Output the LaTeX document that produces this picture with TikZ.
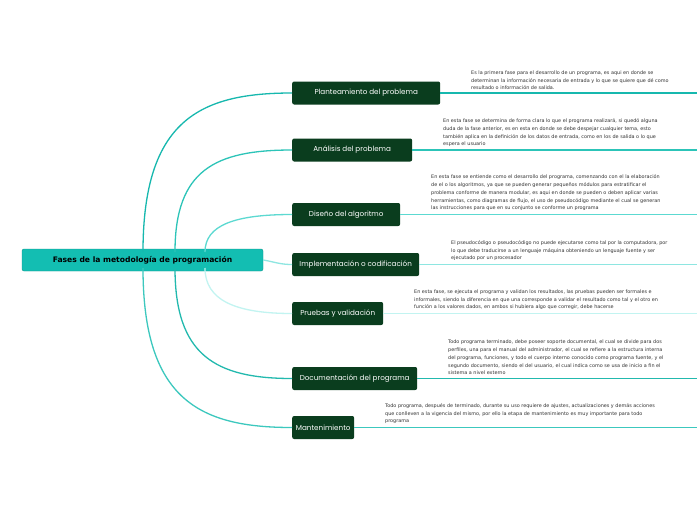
\documentclass[tikz,border=0pt]{standalone}
\usepackage{fontspec}
\setmainfont{DejaVu Sans}
\newfontfamily\boxfont{Poppins}
\begin{document}
\begin{tikzpicture}[x=1pt,y=-1pt,
  phase/.style={fill=phgreen,rounded corners=2pt,text=white,font=\boxfont\fontsize{7.2}{8}\selectfont,anchor=west,minimum height=23pt,inner xsep=3pt},
  desc/.style={anchor=south west,align=left,font=\fontsize{4.9}{7.7}\selectfont,text=black!80,inner sep=0pt},
  link/.style={line width=1.3pt},
  uline/.style={line width=1.2pt}]
\definecolor{phgreen}{HTML}{0A3D1E}
\definecolor{cA}{HTML}{16B8AE}
\definecolor{cB}{HTML}{2CC4B8}
\definecolor{cC}{HTML}{5CD9D1}
\definecolor{cD}{HTML}{8EE6E1}
\definecolor{cE}{HTML}{C2F4F1}
\definecolor{cF}{HTML}{22B9AE}
\definecolor{cG}{HTML}{3CC8BE}
\useasboundingbox (0,0) rectangle (697,520);
\fill[white] (0,0) rectangle (697,520);
\node[fill=cA!90!black!0,fill={rgb,255:red,19;green,190;blue,178},draw={rgb,255:red,12;green,150;blue,140},rounded corners=2pt,minimum width=241pt,minimum height=22pt,font=\bfseries\fontsize{7.6}{9}\selectfont,text=black] (c) at (142.5,260) {Fases de la metodología de programación};
\coordinate (o1) at (143,252); \coordinate (o7) at (143,268);
\coordinate (o2) at (175,252); \coordinate (o6) at (175,268);
\coordinate (o3) at (205,252); \coordinate (o5) at (205,268);
\node[phase,minimum width=148pt] (p1) at (292,93) {Planteamiento del problema};
\node[phase,minimum width=120pt] (p2) at (292,150) {Análisis del problema};
\node[phase,minimum width=108pt] (p3) at (292,214.5) {Diseño del algoritmo};
\node[phase,minimum width=127pt] (p4) at (292,264.5) {Implementación o codificación};
\node[phase,minimum width=91pt] (p5) at (292,313.5) {Pruebas y validación};
\node[phase,minimum width=125pt] (p6) at (292,378.5) {Documentación del programa};
\node[phase,minimum width=62pt] (p7) at (292,427.5) {Mantenimiento};
\draw[link,cA] (o1) .. controls (143,120) and (200,93) .. (p1.west);
\draw[link,cB] (o2) .. controls (175,170) and (215,150) .. (p2.west);
\draw[link,cC] (o3) .. controls (205,225) and (235,214.5) .. (p3.west);
\draw[link,cD] (c.east) .. controls (275,262) and (280,264.5) .. (p4.west);
\draw[link,cE] (o5) .. controls (205,300) and (235,313.5) .. (p5.west);
\draw[link,cF] (o6) .. controls (175,355) and (215,378.5) .. (p6.west);
\draw[link,cG] (o7) .. controls (143,400) and (200,427.5) .. (p7.west);
\coordinate (e1) at (697,93); \coordinate (e2) at (697,150); \coordinate (e3) at (697,214.5);
\coordinate (e4) at (697,264.5); \coordinate (e5) at (697,313.5); \coordinate (e6) at (697,378.5); \coordinate (e7) at (697,427.5);
\draw[uline,cA] (p1.east) -- (e1);
\draw[uline,cB] (p2.east) -- (e2);
\draw[uline,cC] (p3.east) -- (e3);
\draw[uline,cD] (p4.east) -- (e4);
\draw[uline,cE] (p5.east) -- (e5);
\draw[uline,cF] (p6.east) -- (e6);
\draw[uline,cG] (p7.east) -- (e7);
\node[desc] (d1) at (471,90) {Es la primera fase para el desarrollo de un programa, es aqui en donde se\\determinan la información necesaria de entrada y lo que se quiere que dé como\\resultado o información de salida.};
\node[desc] (d2) at (443,147) {En esta fase se determina de forma clara lo que el programa realizará, si quedó alguna\\duda de la fase anterior, es en esta en donde se debe despejar cualquier tema, esto\\también aplica en la definición de los datos de entrada, como en los de salida o lo que\\espera el usuario};
\node[desc] (d3) at (431,211) {En esta fase se entiende como el desarrollo del programa, comenzando con el la elaboración\\de el o los algoritmos, ya que se pueden generar pequeños módulos para estratificar el\\problema conforme de manera modular, es aqui en donde se pueden o deben aplicar varias\\herramientas, como diagramas de flujo, el uso de pseudocódigo mediante el cual se generan\\las instrucciones para que en su conjunto se conforme un programa};
\node[desc] (d4) at (451,261) {El pseudocódigo o pseudocódigo no puede ejecutarse como tal por la computadora, por\\lo que debe traducirse a un lenguaje máquina obteniendo un lenguaje fuente y ser\\ejecutado por un procesador};
\node[desc] (d5) at (414,310) {En esta fase, se ejecuta el programa y validan los resultados, las pruebas pueden ser formales e\\informales, siendo la diferencia en que una corresponde a validar el resultado como tal y el otro en\\función a los valores dados, en ambos si hubiera algo que corregir, debe hacerse};
\node[desc] (d6) at (448,375) {Todo programa terminado, debe poseer soporte documental, el cual se divide para dos\\perfiles, una para el manual del administrador, el cual se refiere a la estructura interna\\del programa, funciones, y todo el cuerpo interno conocido como programa fuente, y el\\segundo documento, siendo el del usuario, el cual indica como se usa de inicio a fin el\\sistema a nivel externo};
\node[desc] (d7) at (385,424) {Todo programa, después de terminado, durante su uso requiere de ajustes, actualizaciones y demás acciones\\que conlleven a la vigencia del mismo, por ello la etapa de mantenimiento es muy importante para todo\\programa};
\end{tikzpicture}
\end{document}
